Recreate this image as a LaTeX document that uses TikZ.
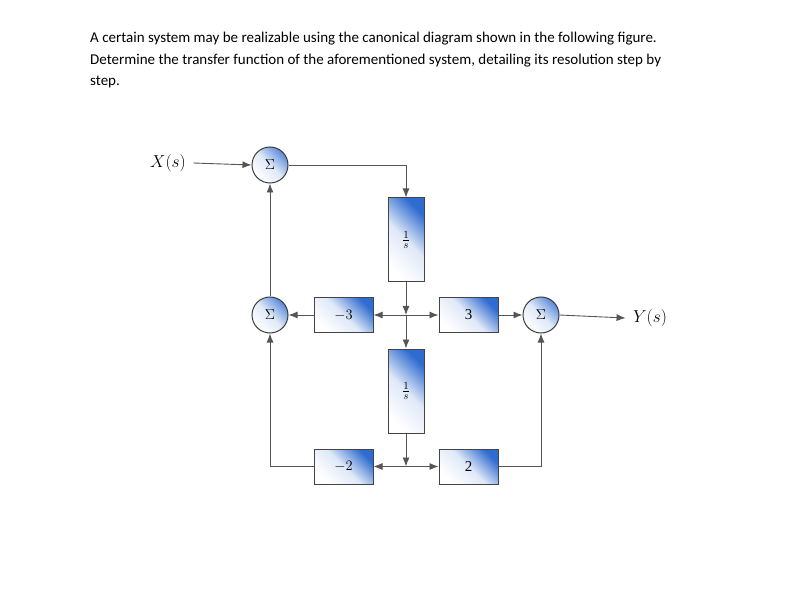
\documentclass[tikz,border=0pt]{standalone}
\usepackage{fontspec}
\setmainfont{Carlito}
\newfontfamily\serifnum{Liberation Serif}
\usetikzlibrary{arrows.meta}
\definecolor{bl}{HTML}{2F6CD0}
\definecolor{ln}{HTML}{555555}
\begin{document}
\begin{tikzpicture}[x=1pt,y=-1pt,
  blk/.style={draw=ln!80!black,line width=1pt,minimum width=59pt,minimum height=35pt,inner sep=0pt,
    top color=bl,bottom color=white,middle color=white!85!bl,shading angle=-45,font=\serifnum\fontsize{15}{15}\selectfont},
  vblk/.style={blk,minimum width=36pt,minimum height=84pt},
  sum/.style={circle,draw=ln!70!black,line width=1pt,minimum size=36pt,inner sep=0pt,
    top color=bl!80,bottom color=white,middle color=white!85!bl,shading angle=-45,font=\fontsize{14}{14}\selectfont},
  wire/.style={draw=ln,line width=0.9pt},
  arr/.style={wire,-{Latex[length=9pt,width=7pt]}}]
\useasboundingbox (0,0) rectangle (801,604);
\node[anchor=north west,align=left,font=\fontsize{15}{21.5}\selectfont,inner sep=0pt] (txt) at (90,32)
 {A certain system may be realizable using the canonical diagram shown in the following figure.\\
  Determine the transfer function of the aforementioned system, detailing its resolution step by\\
  step.};
\node[sum] (s1) at (270,165) {$\Sigma$};
\node[sum] (s2) at (270,315) {$\Sigma$};
\node[sum] (s3) at (541,315) {$\Sigma$};
\node[vblk] (i1) at (406,240) {$\frac{1}{s}$};
\node[vblk] (i2) at (406,391) {$\frac{1}{s}$};
\node[blk] (m3) at (343.5,315) {$-3$};
\node[blk] (p3) at (468.5,315) {3};
\node[blk] (m2) at (343.5,466.5) {$-2$};
\node[blk] (p2) at (468.5,466.5) {2};
\node[font=\fontsize{17}{17}\selectfont] (x) at (168,163) {$X(s)$};
\node[font=\fontsize{17}{17}\selectfont] (y) at (650,318) {$Y(s)$};
\coordinate (j1) at (406,315);
\coordinate (j2) at (406,466.5);
\draw[arr] (x.east) ++(4,0) -- (s1.west);
\draw[arr] (s1.east) -| (i1.north);
\draw[arr] (i1.south) -- (j1);
\draw[arr] (j1) -- (m3.east);
\draw[arr] (j1) -- (p3.west);
\draw[arr] (j1) -- (i2.north);
\draw[arr] (m3.west) -- (s2.east);
\draw[arr] (p3.east) -- (s3.west);
\draw[arr] (i2.south) -- (j2);
\draw[arr] (j2) -- (m2.east);
\draw[arr] (j2) -- (p2.west);
\draw[arr] (m2.west) -| (s2.south);
\draw[arr] (p2.east) -| (s3.south);
\draw[arr] (s2.north) -- (s1.south);
\draw[arr] (s3.east) -- ([xshift=-4pt]y.west);
\end{tikzpicture}
\end{document}
